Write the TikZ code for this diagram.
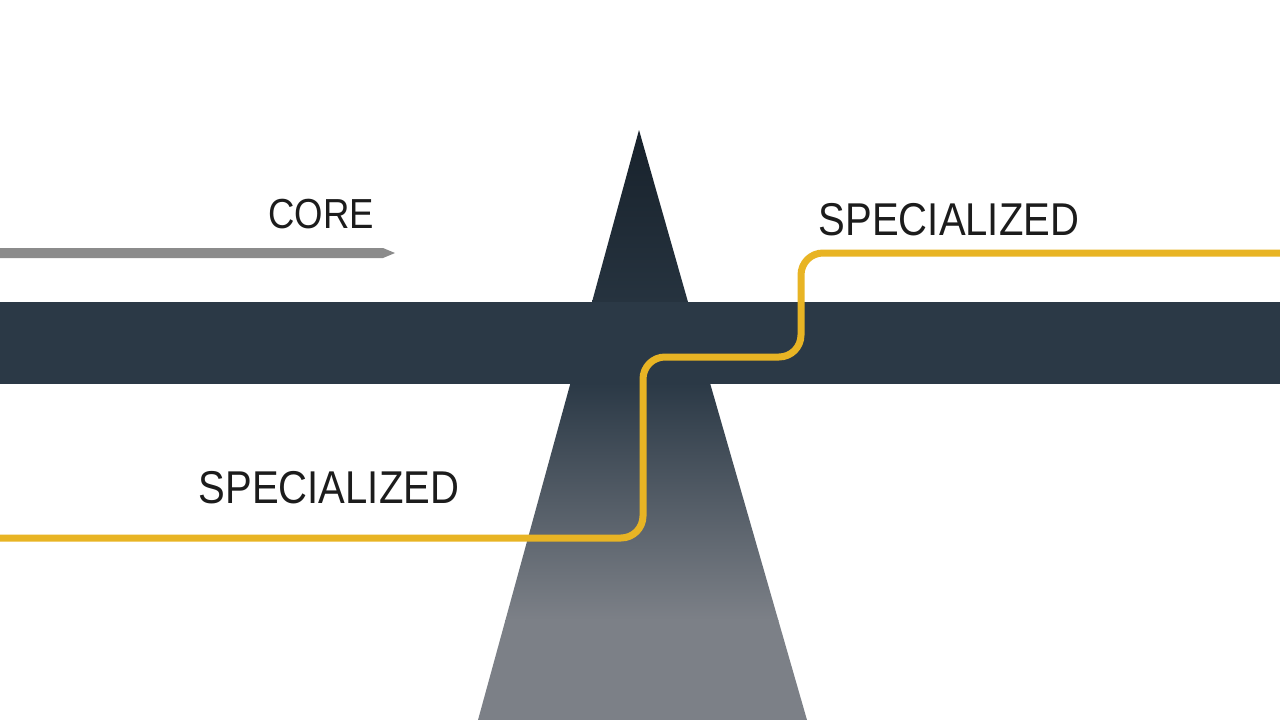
\documentclass[tikz,border=0pt]{standalone}
\usepackage{fontspec}
\setmainfont{Liberation Sans}
\definecolor{barc}{HTML}{2B3946}
\definecolor{apexc}{HTML}{18222C}
\definecolor{upperc}{HTML}{26333F}
\definecolor{lowgray}{HTML}{7C8087}
\definecolor{linegray}{HTML}{8B8B8B}
\definecolor{gold}{HTML}{E8B424}
\definecolor{txt}{HTML}{1C1C1C}
\tikzset{
  lbl/.style={text=txt, inner sep=0pt, xscale=0.87},
  goldline/.style={draw=gold, line width=7pt, rounded corners=22pt, line cap=butt}
}
\begin{document}
\begin{tikzpicture}[x=1pt,y=-1pt]
\useasboundingbox (0,0) rectangle (1280,720);
\fill[white] (0,0) rectangle (1280,720);
% upper part of the spike
\begin{scope}
  \clip (639,130) -- (592,302) -- (688,302) -- cycle;
  \shade[top color=apexc, bottom color=upperc] (560,130) rectangle (720,303);
\end{scope}
% lower part of the spike
\begin{scope}
  \clip (570.5,383) -- (710,383) -- (807,720) -- (478,720) -- cycle;
  \shade[top color=barc, bottom color=lowgray] (400,383) rectangle (900,620);
  \fill[lowgray] (400,619.5) rectangle (900,720);
\end{scope}
% horizontal bar
\fill[barc] (0,302) rectangle (1280,384);
% core line
\fill[linegray] (0,248) -- (383,248) -- (395,253) -- (383,258) -- (0,258) -- cycle;
\node[lbl, font=\fontsize{42}{44}\selectfont] (core) at (321,214) {CORE};
% gold path
\coordinate (gs) at (0,538);
\coordinate (ge) at (1280,253);
\draw[goldline] (gs) -- (643,538) -- (643,357) -- (801,357) -- (801,253) -- (ge);
\node[lbl, font=\fontsize{46}{48}\selectfont] (spR) at (949,220) {SPECIALIZED};
\node[lbl, font=\fontsize{46}{48}\selectfont] (spL) at (329,488) {SPECIALIZED};
\end{tikzpicture}
\end{document}
